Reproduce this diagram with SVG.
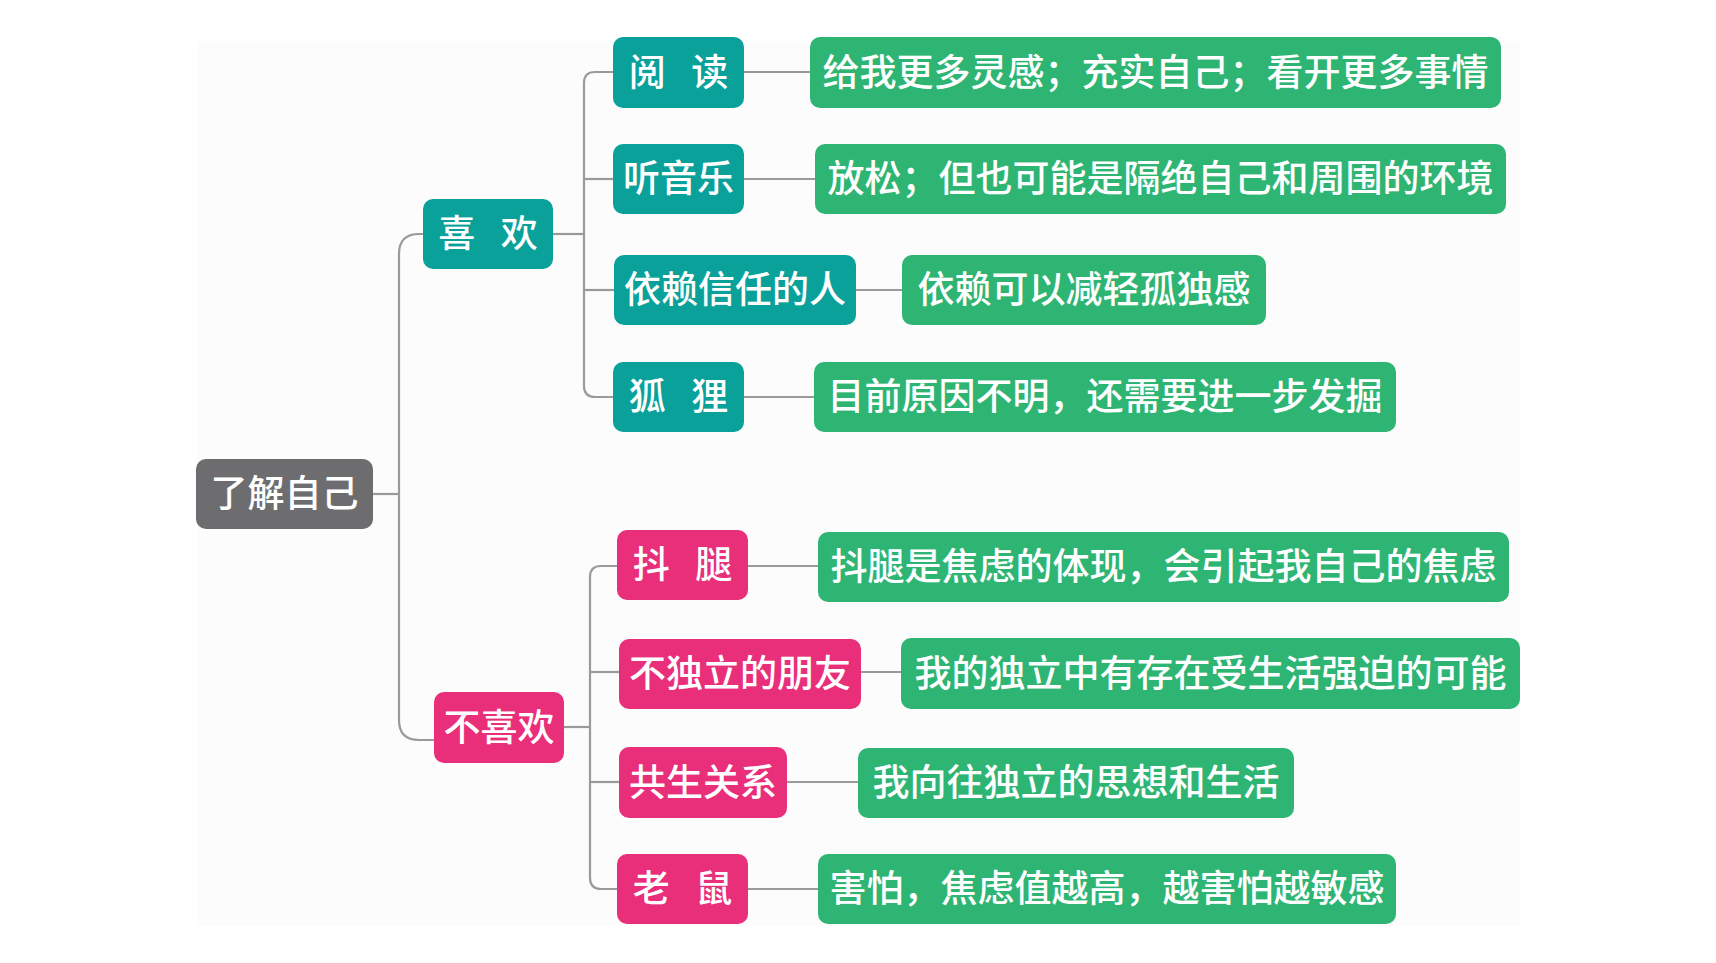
<svg xmlns="http://www.w3.org/2000/svg" width="1716" height="963" viewBox="0 0 1716 963">
<style>
text{font-family:"Noto Sans CJK SC","Noto Sans",sans-serif;font-size:37px;font-weight:500;fill:#ffffff;text-anchor:middle}
.sp{word-spacing:17px}
.root rect{fill:#6d6d70}
.teal rect{fill:#0aa19a}
.pink rect{fill:#e92e7a}
.leaf rect{fill:#2eb573}
#connectors path{fill:none;stroke:#9a9a9a;stroke-width:2.2}
</style>
<rect x="0" y="0" width="1716" height="963" fill="#ffffff"/>
<rect x="197" y="41" width="1323" height="885" fill="#fcfcfc"/>
<g id="connectors">
<path d="M373,494 H399"/>
<path d="M423,234 H419 Q399,234 399,254 V720 Q399,740 419,740 H434"/>
<path d="M553,234 H584"/>
<path d="M613,72 H595 Q584,72 584,83 V386 Q584,397 595,397 H613"/>
<path d="M584,179 H613"/>
<path d="M584,290 H614"/>
<path d="M744,72 H810"/>
<path d="M744,179 H815"/>
<path d="M856,290 H902"/>
<path d="M744,397 H814"/>
<path d="M564,727 H590"/>
<path d="M617,566 H601 Q590,566 590,577 V878 Q590,889 601,889 H617"/>
<path d="M590,672 H619"/>
<path d="M590,782 H619"/>
<path d="M748,566 H818"/>
<path d="M861,672 H901"/>
<path d="M787,782 H858"/>
<path d="M748,889 H818"/>
</g>
<g id="root" class="root"><rect x="196" y="459" width="177" height="70" rx="10"/><text x="284.5" y="507">了解自己</text></g>
<g id="like" class="teal"><rect x="423" y="199" width="130" height="70" rx="10"/><text class="sp" x="488" y="247">喜 欢</text></g>
<g id="dislike" class="pink"><rect x="434" y="692" width="130" height="71" rx="10"/><text x="499" y="740.5">不喜欢</text></g>
<g id="reading" class="teal"><rect x="613" y="37" width="131" height="71" rx="10"/><text class="sp" x="678.5" y="85.5">阅 读</text></g>
<g id="music" class="teal"><rect x="613" y="144" width="131" height="70" rx="10"/><text x="678.5" y="192">听音乐</text></g>
<g id="trust" class="teal"><rect x="614" y="255" width="242" height="70" rx="10"/><text x="735" y="303">依赖信任的人</text></g>
<g id="fox" class="teal"><rect x="613" y="362" width="131" height="70" rx="10"/><text class="sp" x="678.5" y="410">狐 狸</text></g>
<g id="leaf-reading" class="leaf"><rect x="810" y="37" width="691" height="71" rx="10"/><text x="1155.5" y="85.5">给我更多灵感；充实自己；看开更多事情</text></g>
<g id="leaf-music" class="leaf"><rect x="815" y="144" width="691" height="70" rx="10"/><text x="1160.5" y="192">放松；但也可能是隔绝自己和周围的环境</text></g>
<g id="leaf-trust" class="leaf"><rect x="902" y="255" width="364" height="70" rx="10"/><text x="1084" y="303">依赖可以减轻孤独感</text></g>
<g id="leaf-fox" class="leaf"><rect x="814" y="362" width="582" height="70" rx="10"/><text x="1105" y="410">目前原因不明，还需要进一步发掘</text></g>
<g id="leg" class="pink"><rect x="617" y="530" width="131" height="70" rx="10"/><text class="sp" x="682.5" y="578">抖 腿</text></g>
<g id="friend" class="pink"><rect x="619" y="639" width="242" height="70" rx="10"/><text x="740" y="687">不独立的朋友</text></g>
<g id="symbiosis" class="pink"><rect x="619" y="747" width="168" height="71" rx="10"/><text x="703" y="795.5">共生关系</text></g>
<g id="mouse" class="pink"><rect x="617" y="854" width="131" height="70" rx="10"/><text class="sp" x="682.5" y="902">老 鼠</text></g>
<g id="leaf-leg" class="leaf"><rect x="818" y="532" width="691" height="70" rx="10"/><text x="1163.5" y="580">抖腿是焦虑的体现，会引起我自己的焦虑</text></g>
<g id="leaf-friend" class="leaf"><rect x="901" y="638" width="619" height="71" rx="10"/><text x="1210.5" y="686.5">我的独立中有存在受生活强迫的可能</text></g>
<g id="leaf-symbiosis" class="leaf"><rect x="858" y="748" width="436" height="70" rx="10"/><text x="1076" y="796">我向往独立的思想和生活</text></g>
<g id="leaf-mouse" class="leaf"><rect x="818" y="854" width="578" height="70" rx="10"/><text x="1107" y="902">害怕，焦虑值越高，越害怕越敏感</text></g>
</svg>
